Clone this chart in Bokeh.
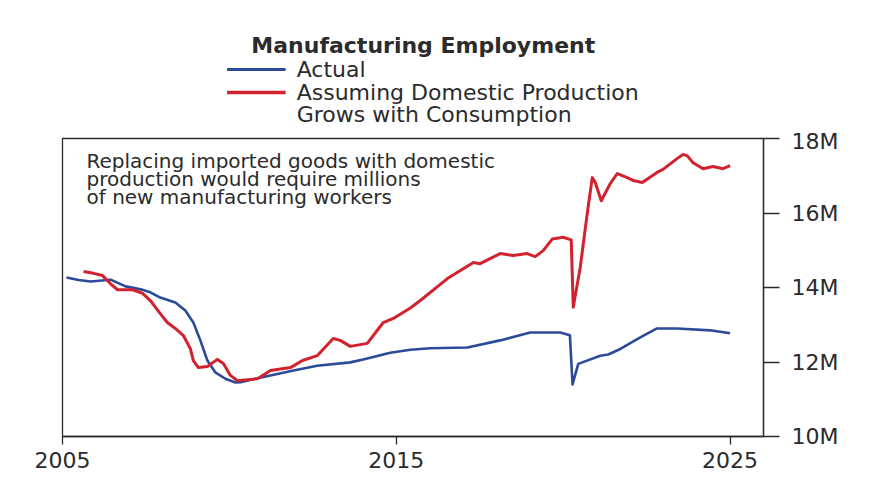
from bokeh.plotting import figure
from bokeh.layouts import column
from bokeh.models import Range1d, FixedTicker
from bokeh.core.properties import value
from bokeh.embed import file_html
from bokeh.resources import INLINE

# ---------------- data (millions of workers) ----------------
actual_years = [2005.12, 2005.48, 2005.84, 2006.44, 2006.89, 2007.34, 2007.63, 2007.93,
                2008.38, 2008.68, 2008.92, 2009.13, 2009.34, 2009.58, 2009.88, 2010.18,
                2010.33, 2011.02, 2011.92, 2012.63, 2013.62, 2014.01, 2014.82, 2015.42,
                2016.02, 2017.13, 2018.11, 2019.01, 2019.91, 2020.20, 2020.28, 2020.45,
                2021.11, 2021.35, 2021.71, 2022.31, 2022.81, 2023.41, 2024.40, 2025.00]
actual_m = [14.27, 14.20, 14.16, 14.21, 14.03, 13.95, 13.87, 13.73,
            13.60, 13.38, 13.06, 12.58, 12.04, 11.72, 11.55, 11.45,
            11.46, 11.60, 11.77, 11.90, 11.99, 12.07, 12.25, 12.33,
            12.37, 12.39, 12.58, 12.79, 12.79, 12.72, 11.40, 11.95,
            12.17, 12.20, 12.35, 12.66, 12.90, 12.90, 12.85, 12.77]

assumed_years = [2005.63, 2005.93, 2006.20, 2006.44, 2006.65, 2007.10, 2007.40, 2007.63,
                 2007.93, 2008.14, 2008.38, 2008.62, 2008.83, 2008.92, 2009.07, 2009.34,
                 2009.64, 2009.82, 2010.03, 2010.24, 2010.84, 2011.23, 2011.83, 2012.19,
                 2012.63, 2013.11, 2013.32, 2013.62, 2014.13, 2014.61, 2014.91, 2015.42,
                 2015.72, 2016.53, 2017.31, 2017.51, 2018.11, 2018.50, 2018.92, 2019.16,
                 2019.40, 2019.67, 2020.00, 2020.24, 2020.30, 2020.51, 2020.72, 2020.87,
                 2020.96, 2021.14, 2021.41, 2021.62, 2021.92, 2022.10, 2022.37, 2022.81,
                 2022.99, 2023.41, 2023.59, 2023.71, 2023.89, 2024.19, 2024.49, 2024.79,
                 2025.00]
assumed_m = [14.43, 14.38, 14.32, 14.10, 13.94, 13.94, 13.84, 13.65,
             13.30, 13.06, 12.90, 12.71, 12.36, 12.04, 11.85, 11.88,
             12.07, 11.96, 11.64, 11.50, 11.55, 11.77, 11.85, 12.04,
             12.17, 12.63, 12.58, 12.42, 12.50, 13.06, 13.17, 13.45,
             13.65, 14.24, 14.67, 14.64, 14.91, 14.86, 14.91, 14.83,
             14.99, 15.30, 15.35, 15.28, 13.47, 14.54, 15.99, 16.95,
             16.82, 16.33, 16.79, 17.06, 16.95, 16.87, 16.82, 17.09,
             17.17, 17.46, 17.57, 17.54, 17.35, 17.19, 17.25, 17.19,
             17.27]

x_ticks = [2005, 2015, 2025]
y_ticks = [10, 12, 14, 16, 18]
y_tick_labels = ["10M", "12M", "14M", "16M", "18M"]

title_text = "Manufacturing Employment"
legend_actual = "Actual"
legend_assumed = ["Assuming Domestic Production", "Grows with Consumption"]
note_lines = ["Replacing imported goods with domestic",
              "production would require millions",
              "of new manufacturing workers"]

BLUE = "#2c4a9a"
RED = "#d2222d"
INK = "#2b2b2b"
FONT = "DejaVu Sans"

# ---------------- header (title + legend) ----------------
W = 886
HEAD_H = 128
header = figure(width=W, height=HEAD_H, x_range=Range1d(0, W), y_range=Range1d(HEAD_H, 0),
                toolbar_location=None, output_backend="svg", min_border=0)
header.axis.visible = False
header.grid.visible = False
header.outline_line_color = None

header.text(x=[456], y=[45], text=[title_text], text_align="center", text_baseline="middle",
            text_font=value(FONT), text_font_size="22px", text_font_style="bold", text_color=INK)
header.line(x=[208, 282], y=[69, 69], line_color=BLUE, line_width=3)
header.line(x=[208, 282], y=[92, 92], line_color=RED, line_width=3.5)
header.text(x=[296, 296, 296], y=[69, 92, 114],
            text=[legend_actual] + legend_assumed,
            text_align="left", text_baseline="middle",
            text_font=value(FONT), text_font_size="22px", text_color=INK)

# ---------------- main chart ----------------
X0, X1 = 2005.0, 2026.0
Y0, Y1 = 10.0, 18.0
p = figure(width=W, height=498 - HEAD_H, x_range=Range1d(X0, X1), y_range=Range1d(Y0, Y1),
           y_axis_location="right", toolbar_location=None, output_backend="svg",
           min_border_left=62, min_border_right=123, min_border_top=10, min_border_bottom=62)
p.grid.visible = False
p.outline_line_color = INK
p.outline_line_width = 1.3

p.line(actual_years, actual_m, line_color=BLUE, line_width=2.6, line_join="round")
p.line(assumed_years, assumed_m, line_color=RED, line_width=3, line_join="round")

xa = p.xaxis[0]
xa.ticker = FixedTicker(ticks=x_ticks)
xa.major_tick_out = 8
xa.major_tick_in = 0
xa.minor_tick_line_color = None
xa.axis_line_color = INK
xa.axis_line_width = 1.3
xa.major_tick_line_color = INK
xa.major_tick_line_width = 1.3
xa.major_label_text_font = FONT
xa.major_label_text_font_size = "22px"
xa.major_label_text_color = INK
xa.major_label_standoff = 7

ya = p.yaxis[0]
ya.ticker = FixedTicker(ticks=y_ticks)
ya.major_label_overrides = {t: s for t, s in zip(y_ticks, y_tick_labels)}
ya.major_tick_out = 16
ya.major_tick_in = 0
ya.minor_tick_line_color = None
ya.axis_line_color = INK
ya.axis_line_width = 1.3
ya.major_tick_line_color = INK
ya.major_tick_line_width = 1.3
ya.major_label_text_font = FONT
ya.major_label_text_font_size = "22px"
ya.major_label_text_color = INK
ya.major_label_standoff = 12

# note inside the frame (positions given in pixels, mapped to data)
def px_x(px):
    return X0 + (px - 62) * (X1 - X0) / 701.0

def px_y(py):
    return Y0 + (436 - py) * (Y1 - Y0) / 298.0

p.text(x=[px_x(86)] * 3, y=[px_y(160), px_y(178), px_y(196)], text=note_lines,
       text_align="left", text_baseline="middle",
       text_font=value(FONT), text_font_size="20px", text_color=INK)

layout = column(header, p, spacing=0)
open("out.html", "w").write(file_html(layout, INLINE))
